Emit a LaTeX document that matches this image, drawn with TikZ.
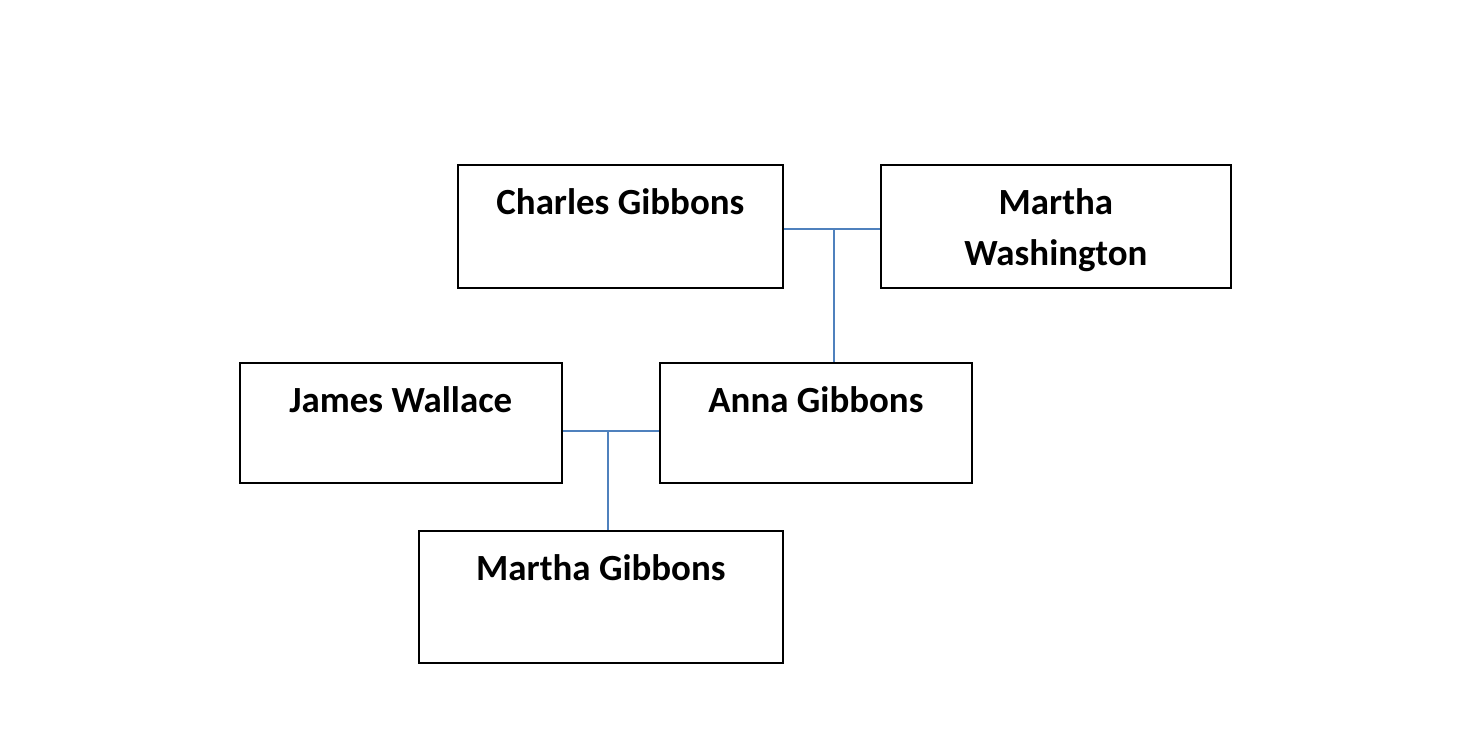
\documentclass[tikz,border=0pt]{standalone}
\usepackage{fontspec}
\setmainfont{Carlito}
\usetikzlibrary{positioning}
\definecolor{linkblue}{HTML}{4F81BD}

\begin{document}
\begin{tikzpicture}[
	person/.style={draw, line width=1pt, anchor=north west, inner sep=0pt},
	who/.style={anchor=north, yshift=-0.48cm, inner sep=0pt, align=center,
		font=\bfseries\fontsize{21}{29}\selectfont},
	link/.style={draw=linkblue, line width=1.4pt}]

	\useasboundingbox (0,0) rectangle (29.16,-15.04);

	% parents of Anna
	\node[person, minimum width=6.5cm, minimum height=2.46cm,
		label={[who]north:Charles Gibbons}] (charles) at (9.14,-3.28) {};
	\node[person, minimum width=7cm, minimum height=2.46cm,
		label={[who]north:Martha\\Washington}] (marthaw) at (17.6,-3.28) {};

	% Anna and her husband
	\node[person, minimum width=6.44cm, minimum height=2.4cm,
		label={[who]north:James Wallace}] (james) at (4.78,-7.24) {};
	\node[person, minimum width=6.24cm, minimum height=2.4cm,
		label={[who]north:Anna Gibbons}] (anna) at (13.18,-7.24) {};

	% child
	\node[person, minimum width=7.28cm, minimum height=2.64cm,
		label={[who]north:Martha Gibbons}] (marthag) at (8.36,-10.6) {};

	\draw[link] ([yshift=-0.05cm]charles.east) -- ([yshift=-0.05cm]marthaw.west)
		coordinate[pos=0.52] (u1);
	\draw[link] (u1) -- (u1 |- anna.north);
	\draw[link] ([yshift=-0.16cm]james.east) -- ([yshift=-0.16cm]anna.west)
		coordinate[pos=0.47] (u2);
	\draw[link] (u2) -- (u2 |- marthag.north);
\end{tikzpicture}
\end{document}
